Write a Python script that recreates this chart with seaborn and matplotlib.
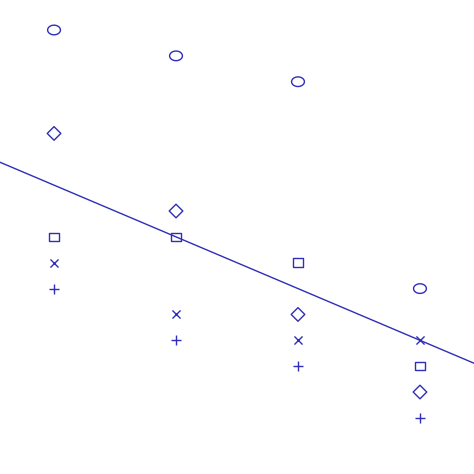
import numpy as np
import pandas as pd
import matplotlib
matplotlib.use("Agg")
import matplotlib.pyplot as plt
import seaborn as sns

# Data
x_positions = [1, 2, 3, 4]
circle_vals = [16, 15, 14, 6]
diamond_vals = [12, 9, 5, 2]
square_vals = [8, 8, 7, 3]
cross_vals = [7, 5, 4, 4]
plus_vals = [6, 4, 3, 1]
series_names = ["circle", "diamond", "square", "cross", "plus"]
line_intercept = 12.0
line_slope = -2.0

color = "#2e2eb8"

t = np.linspace(0, 2 * np.pi, 60)
ellipse = np.column_stack([1.33 * np.cos(t), np.sin(t)])
rect = np.array([[-1.25, -1], [1.25, -1], [1.25, 1], [-1.25, 1], [-1.25, -1]])

marker_styles = {
    "circle": dict(marker=ellipse, s=85, filled=True),
    "diamond": dict(marker="D", s=48, filled=True),
    "square": dict(marker=rect, s=58, filled=True),
    "cross": dict(marker="x", s=34, filled=False),
    "plus": dict(marker="+", s=62, filled=False),
}
values = {
    "circle": circle_vals,
    "diamond": diamond_vals,
    "square": square_vals,
    "cross": cross_vals,
    "plus": plus_vals,
}

sns.set_theme(style="white")
fig = plt.figure(figsize=(4.74, 4.74), dpi=100)
ax = fig.add_axes([0, 0, 1, 1])

for name in series_names:
    df = pd.DataFrame({"x": x_positions, "y": values[name]})
    st = marker_styles[name]
    if st["filled"]:
        sns.scatterplot(data=df, x="x", y="y", ax=ax, marker=st["marker"], s=st["s"],
                        facecolors="none", edgecolor=color, linewidth=1.0)
    else:
        sns.scatterplot(data=df, x="x", y="y", ax=ax, marker=st["marker"], s=st["s"],
                        color=color, linewidth=1.0)

ax.axline((0, line_intercept), slope=line_slope, color=color, linewidth=1.0)

ax.set_xlim(0.557, 4.443)
ax.set_ylim(-1.17, 17.16)
ax.set_axis_off()

fig.savefig("out.png", dpi=100, facecolor="white")
